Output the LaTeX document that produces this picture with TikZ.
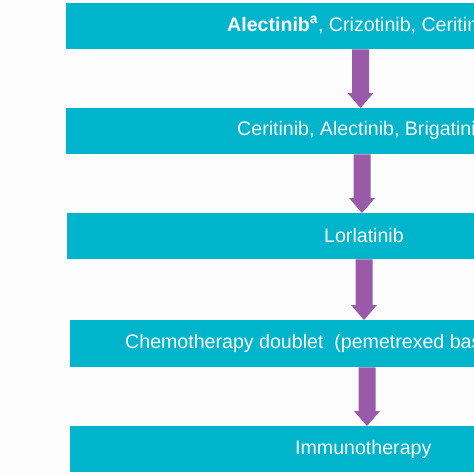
\documentclass[tikz,border=0pt]{standalone}
\usepackage{fontspec}
\setmainfont{Liberation Sans}
\usetikzlibrary{calc}
\definecolor{boxc}{RGB}{0,180,204}
\definecolor{arrowc}{RGB}{155,90,168}
\definecolor{bgc}{RGB}{253,253,254}
\tikzset{
  stepbox/.style={rectangle, fill=boxc, draw=none, minimum width=600pt, inner sep=0pt, anchor=north west},
  lbl/.style={text=white, inner sep=0pt, font=\fontsize{19.6}{23}\selectfont, anchor=base west}
}
\begin{document}
\begin{tikzpicture}[x=1pt,y=-1pt]
\useasboundingbox (0,0) rectangle (474,474);
\clip (0,0) rectangle (474,474);
\fill[bgc] (0,0) rectangle (474,474);
\node[stepbox, minimum height=46pt] (b1) at (66,3) {};
\node[stepbox, minimum height=46pt] (b2) at (66,108) {};
\node[stepbox, minimum height=46pt] (b3) at (67,213) {};
\node[stepbox, minimum height=47pt] (b4) at (69.5,320) {};
\node[stepbox, minimum height=46pt] (b5) at (70,426) {};
\node[lbl] (t1) at (227,31) {\textbf{Alectinib\textsuperscript{a}}, Crizotinib, Ceritinib};
\node[lbl] (t2) at (237,135.5) {Ceritinib, Alectinib, Brigatinib};
\node[lbl] (t3) at (324,242) {Lorlatinib};
\node[lbl] (t4) at (125,348) {Chemotherapy doublet\ \ (pemetrexed based};
\node[lbl] (t5) at (295,454) {Immunotherapy};
\coordinate (x1) at (360.5,0);
\coordinate (x2) at (362,0);
\coordinate (x3) at (364,0);
\coordinate (x4) at (367,0);
\foreach \a/\b/\x in {b1/b2/x1, b2/b3/x2, b3/b4/x3, b4/b5/x4}{
  \fill[arrowc] ([xshift=-8.5pt]\a.south -| \x) -- ([xshift=8.5pt]\a.south -| \x)
    -- ([xshift=8.5pt,yshift=15pt]\b.north -| \x) -- ([xshift=13pt,yshift=15pt]\b.north -| \x)
    -- (\b.north -| \x) -- ([xshift=-13pt,yshift=15pt]\b.north -| \x)
    -- ([xshift=-8.5pt,yshift=15pt]\b.north -| \x) -- cycle;
}
\end{tikzpicture}
\end{document}
